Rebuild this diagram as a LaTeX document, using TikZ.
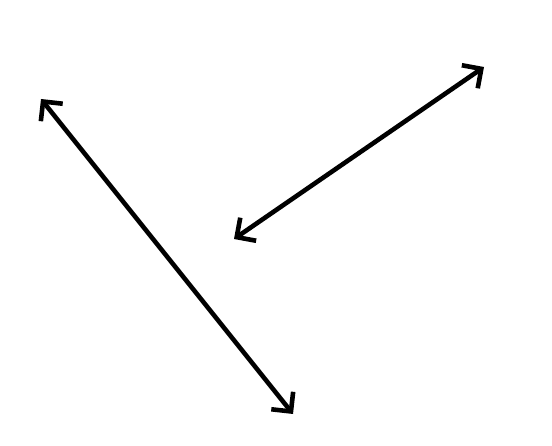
\documentclass[tikz,border=0pt]{standalone}
\usetikzlibrary{arrows.meta}
\begin{document}
\begin{tikzpicture}[x=1pt,y=-1pt,
  dbl/.style={line width=4.6pt,line cap=round,{Straight Barb[length=14pt,width=28pt,line join=miter]}-{Straight Barb[length=14pt,width=28pt,line join=miter]}}]
\useasboundingbox (0,0) rectangle (552,446);
\coordinate (a1) at (41,99);
\coordinate (a2) at (293,414);
\coordinate (b1) at (234,239);
\coordinate (b2) at (484,67);
\draw[dbl] (a1) -- (a2);
\draw[dbl] (b1) -- (b2);
\end{tikzpicture}
\end{document}
